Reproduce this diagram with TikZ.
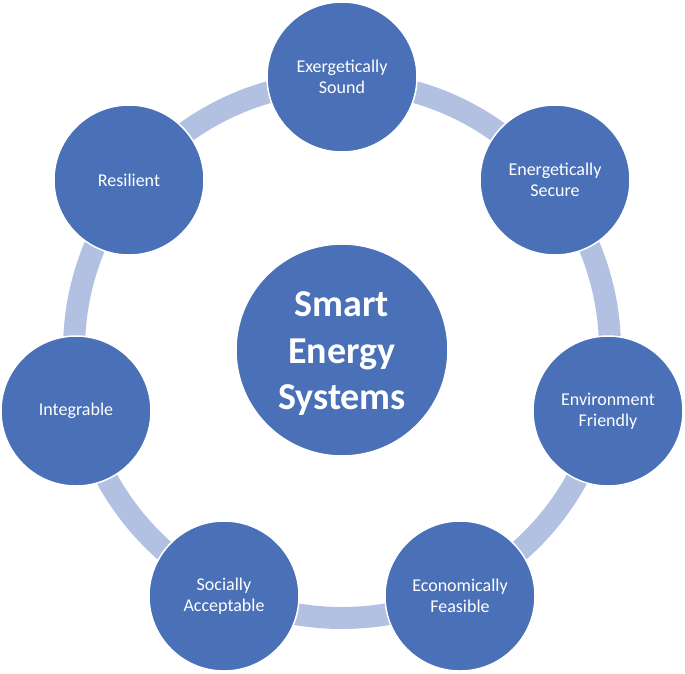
\documentclass[tikz,border=0pt]{standalone}
\usepackage{fontspec}
\setmainfont{Carlito}
\definecolor{cfill}{RGB}{74,112,183}
\definecolor{ringc}{RGB}{178,192,226}
\begin{document}
\begin{tikzpicture}[x=1pt,y=-1pt,
  small/.style={circle, fill=cfill, draw=white, line width=1.5pt, minimum size=150pt, inner sep=0pt, text=white, align=center, font=\fontsize{18}{20.5}\selectfont},
  big/.style={circle, fill=cfill, draw=white, line width=1.5pt, minimum size=212pt, inner sep=0pt, text=white, align=center, font=\bfseries\fontsize{38}{46.5}\selectfont},
  ringline/.style={draw=ringc, line width=22pt}]
\useasboundingbox (0,0) rectangle (685,673);
\coordinate (c) at (342,350);
\draw[ringline] (c) circle[radius=268];
\node[big] (center) at (c) {};
\node[text=white, align=center, font=\bfseries\fontsize{38}{46.5}\selectfont] (centertext) at (342,354) {Smart\\Energy\\Systems};
\node[small] (ex) at (342,77) {Exergetically\\Sound};
\node[small] (es) at (555,180) {Energetically\\Secure};
\node[small] (ef) at (608,411) {Environment\\Friendly};
\node[small] (eco) at (460,596) {Economically\\Feasible};
\node[small] (soc) at (224,596) {Socially\\Acceptable};
\node[small] (int) at (76,411) {Integrable};
\node[small] (res) at (129,180) {Resilient};
\end{tikzpicture}
\end{document}
